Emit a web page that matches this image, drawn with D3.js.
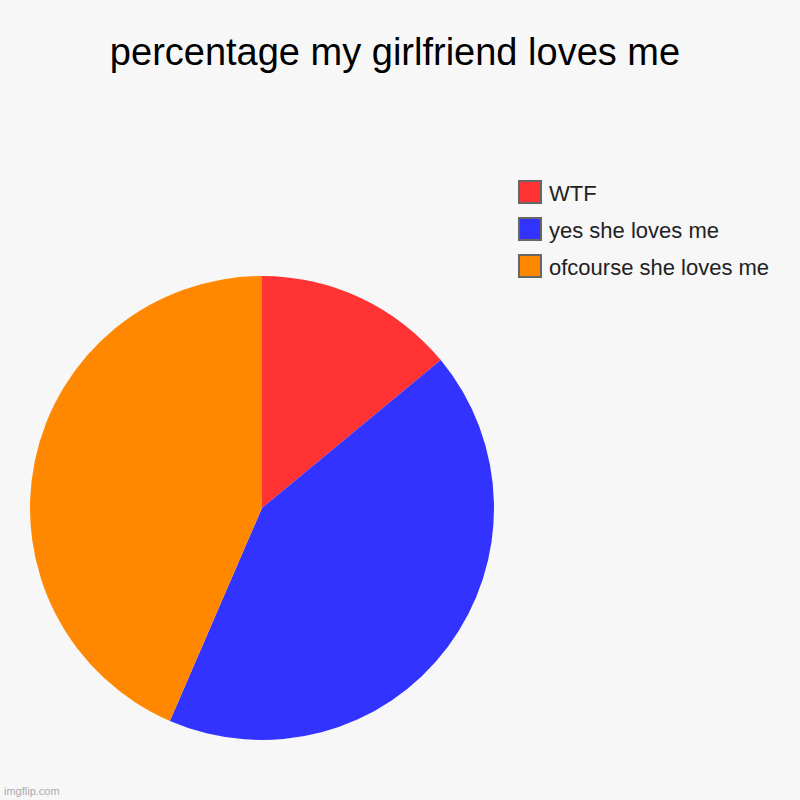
<!DOCTYPE html>
<html>
<head>
<meta charset="utf-8">
<script src="https://cdn.jsdelivr.net/npm/d3@7"></script>
<style>
html,body{margin:0;padding:0;background:#f7f7f7;}
svg{display:block;}
</style>
</head>
<body>
<svg id="chart" width="800" height="800"></svg>
<script>
const chartTitle = "percentage my girlfriend loves me";
const categories = ["WTF", "yes she loves me", "ofcourse she loves me"];
const values = [14, 42.5, 43.5];
const colors = ["#ff3333", "#3333ff", "#ff8800"];

const svg = d3.select("#chart");
svg.append("rect").attr("width", 800).attr("height", 800).attr("fill", "#f7f7f7");

svg.append("text")
  .attr("x", 395).attr("y", 65)
  .attr("text-anchor", "middle")
  .attr("font-family", "Liberation Sans, Arial, sans-serif")
  .attr("font-size", 38)
  .attr("fill", "#000")
  .text(chartTitle);

const data = categories.map((c, i) => ({name: c, value: values[i], color: colors[i]}));
const pie = d3.pie().value(d => d.value).sort(null);
const arc = d3.arc().innerRadius(0).outerRadius(232);

const g = svg.append("g").attr("transform", "translate(262,508)");
g.selectAll("path").data(pie(data)).join("path")
  .attr("d", arc)
  .attr("fill", d => d.data.color);

const legend = svg.append("g").attr("transform", "translate(519,181)");
const rows = legend.selectAll("g").data(data).join("g")
  .attr("transform", (d, i) => `translate(0,${i * 37})`);
rows.append("rect")
  .attr("x", 0).attr("y", 0).attr("width", 22).attr("height", 22)
  .attr("fill", d => d.color)
  .attr("stroke", "#666").attr("stroke-width", 2);
rows.append("text")
  .attr("x", 30).attr("y", 19.5)
  .attr("font-family", "Liberation Sans, Arial, sans-serif")
  .attr("font-size", 22)
  .attr("fill", "#222")
  .text(d => d.name);

svg.append("text")
  .attr("x", 4).attr("y", 795)
  .attr("font-family", "Liberation Sans, Arial, sans-serif")
  .attr("font-size", 11)
  .attr("fill", "#aaa")
  .text("imgflip.com");
</script>
</body>
</html>
